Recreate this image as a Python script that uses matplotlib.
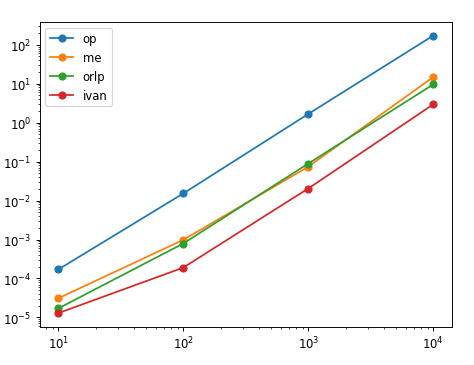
import matplotlib
matplotlib.use("Agg")
import matplotlib.pyplot as plt

sizes = [10, 100, 1000, 10000]
op = [1.7e-4, 0.0152, 1.67, 172]
me = [3.1e-5, 9.8e-4, 0.074, 14.8]
orlp = [1.7e-5, 7.9e-4, 0.089, 9.6]
ivan = [1.29e-5, 1.9e-4, 0.0204, 2.95]
series = [("op", op), ("me", me), ("orlp", orlp), ("ivan", ivan)]

dpi = 84
fig = plt.figure(figsize=(474 / dpi, 366 / dpi), dpi=dpi)
ax = fig.add_axes([39.5 / 474, 1 - 328 / 366, (452 - 39.5) / 474, (328 - 22.7) / 366])
for name, vals in series:
    ax.plot(sizes, vals, marker="o", label=name)
ax.set_xscale("log")
ax.set_yscale("log")
ax.legend(loc="upper left")
fig.savefig("out.png", dpi=dpi)
